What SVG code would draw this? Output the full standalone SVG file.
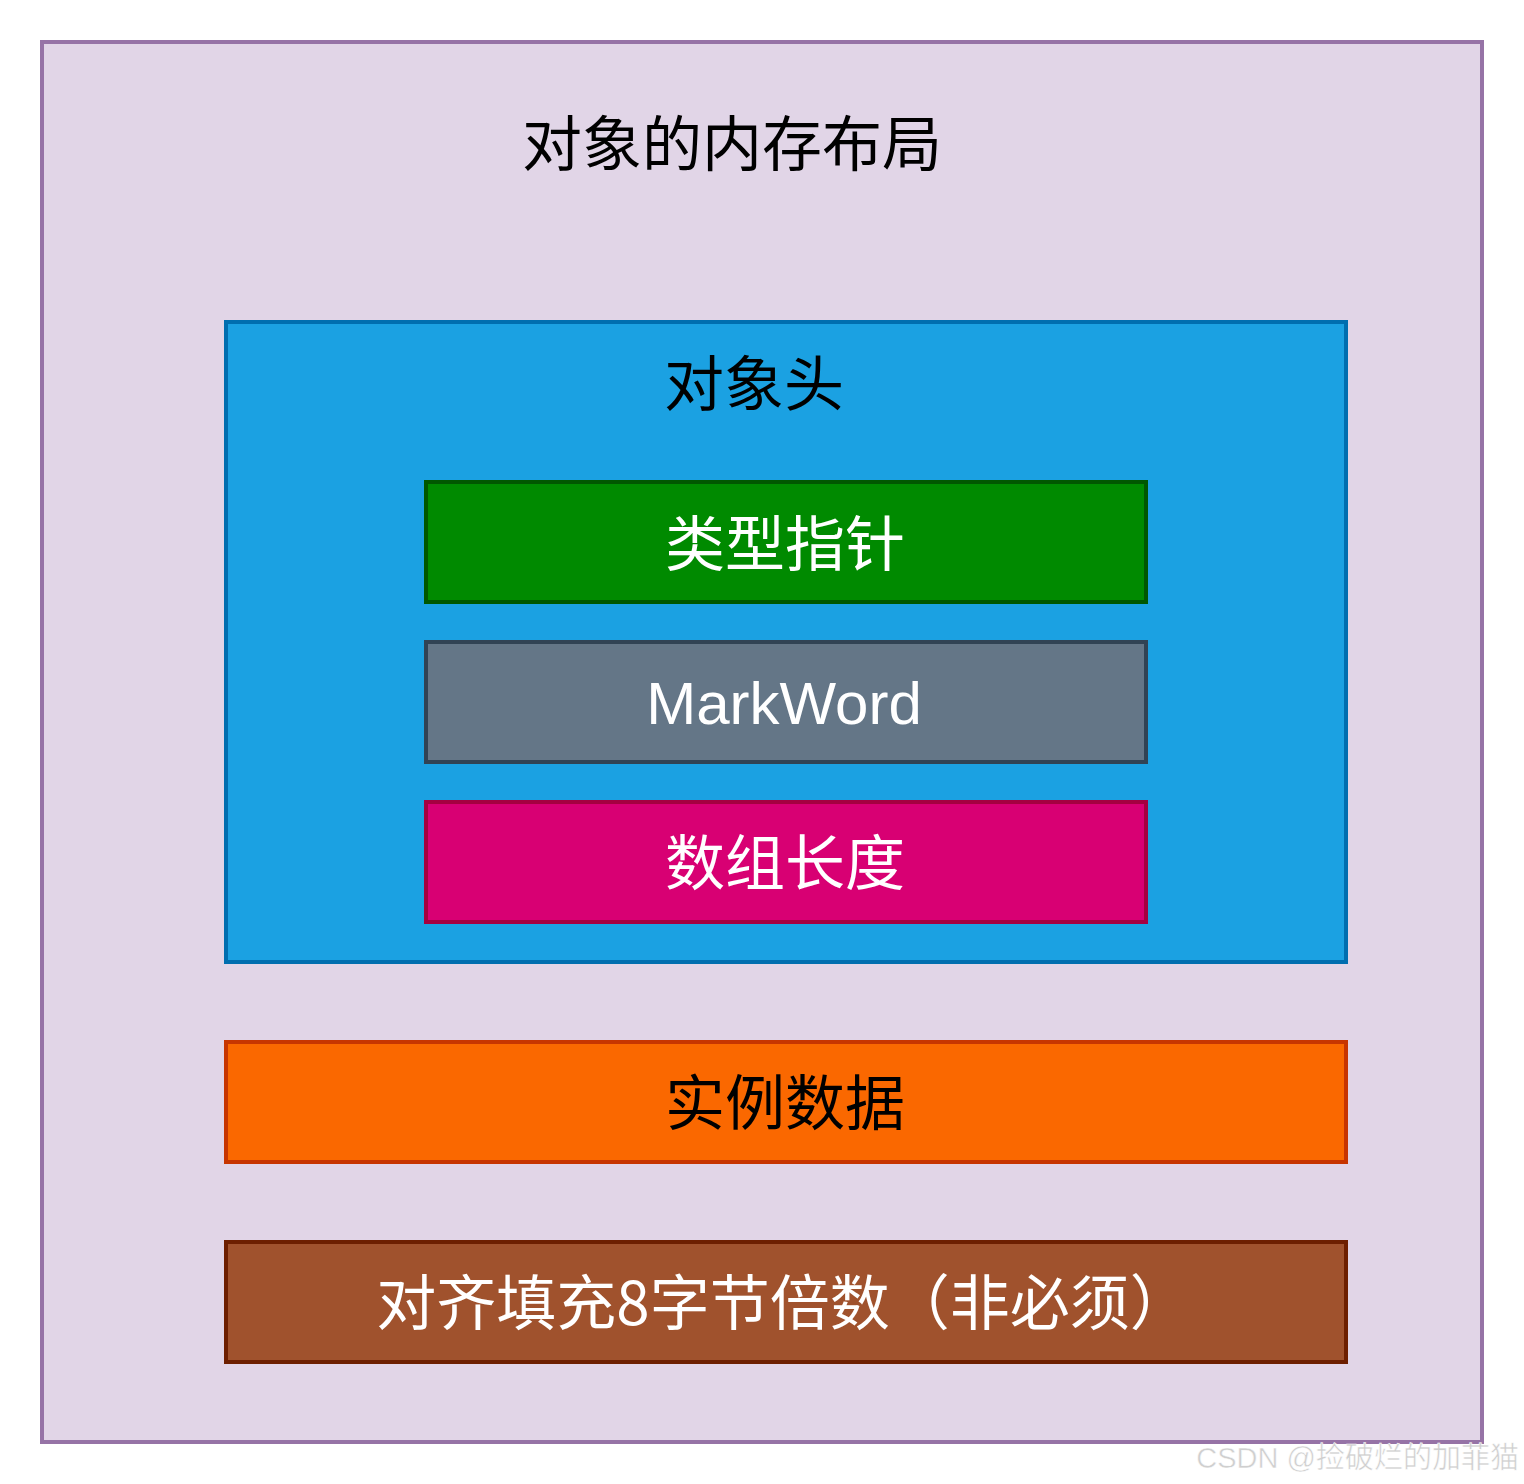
<svg xmlns="http://www.w3.org/2000/svg" width="1524" height="1484" viewBox="0 0 1524 1484">
<style>
.box{stroke-width:4}
.t{font-family:"Microsoft YaHei","Noto Sans CJK SC","Noto Sans",sans-serif;font-size:60px;text-anchor:middle;dominant-baseline:central}
.w{fill:#ffffff}
.b{fill:#000000}
</style>
<rect x="0" y="0" width="1524" height="1484" fill="#ffffff"/>
<g id="layout">
<rect class="box" x="42" y="42" width="1440" height="1400" fill="#e1d5e7" stroke="#9673a6"/>
<text class="t b" x="732" y="139">对象的内存布局</text>
</g>
<g id="header">
<rect class="box" x="226" y="322" width="1120" height="640" fill="#1ba1e2" stroke="#006eaf"/>
<text class="t b" x="754" y="379">对象头</text>
</g>
<g id="klass">
<rect class="box" x="426" y="482" width="720" height="120" fill="#008a00" stroke="#005700"/>
<text class="t w" x="785" y="539">类型指针</text>
</g>
<g id="markword">
<rect class="box" x="426" y="642" width="720" height="120" fill="#647687" stroke="#314354"/>
<text class="t w" x="784" y="703" style="font-family:'Liberation Sans',sans-serif">MarkWord</text>
</g>
<g id="arraylen">
<rect class="box" x="426" y="802" width="720" height="120" fill="#d80073" stroke="#a50040"/>
<text class="t w" x="785" y="858">数组长度</text>
</g>
<g id="instance">
<rect class="box" x="226" y="1042" width="1120" height="120" fill="#fa6800" stroke="#c73500"/>
<text class="t b" x="785" y="1098">实例数据</text>
</g>
<g id="padding">
<rect class="box" x="226" y="1242" width="1120" height="120" fill="#a0522d" stroke="#6d1f00"/>
<text class="t w" x="783" y="1298">对齐填充8字节倍数（非必须）</text>
</g>
<g id="connectors"/>
<text x="1519" y="1468" font-family="Liberation Sans,'Noto Sans CJK SC',sans-serif" font-size="29" fill="#cfcfcf" stroke="#ffffff" stroke-width="0.5" text-anchor="end">CSDN @捡破烂的加菲猫</text>
</svg>
